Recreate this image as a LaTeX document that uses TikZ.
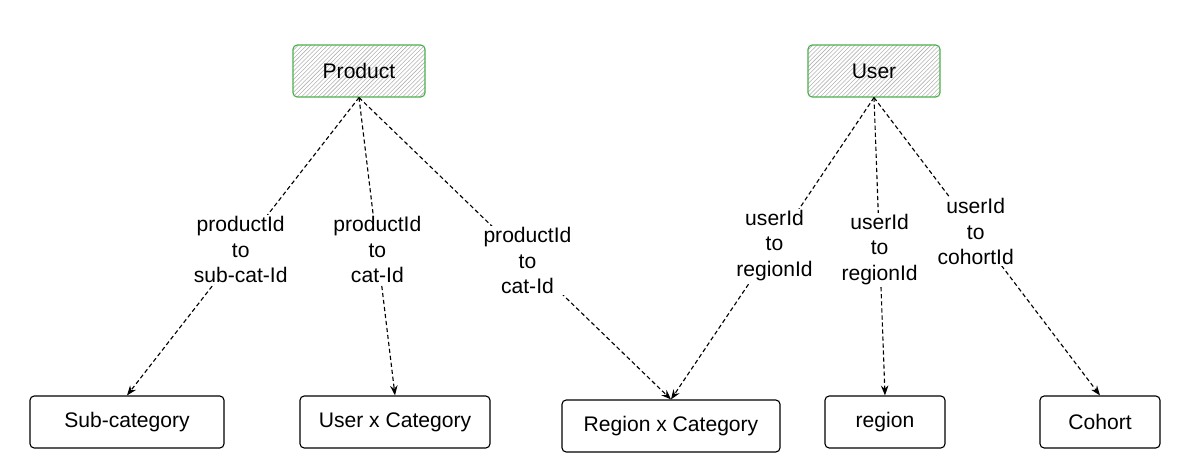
\documentclass[tikz,border=0pt]{standalone}
\usepackage{fontspec}
\setmainfont{Liberation Sans}
\usetikzlibrary{patterns}
\usetikzlibrary{arrows.meta}

\tikzset{
    entity/.style={draw, thick, rounded corners=3pt, minimum height=1.3cm,
        font=\fontsize{15}{18}\selectfont},
    source/.style={entity, draw=green!55!black!70, pattern=north east lines,
        pattern color=gray!60, minimum width=3.3cm},
    link/.style={->, densely dashed, thick, >={Stealth[length=7pt]}},
    tag/.style={fill=white, align=center, inner sep=1pt,
        font=\fontsize{15}{18}\selectfont}
}

\begin{document}
\begin{tikzpicture}
    \useasboundingbox (0, 0) rectangle (30, 11.75);
    \path (8.975, 9.975) node [source] (prod) {Product};
    \path (21.85, 9.975) node [source] (user) {User};

    \path (3.175, 1.2) node [entity, minimum width=4.85cm] (subcat) {Sub-category};
    \path (9.875, 1.2) node [entity, minimum width=4.75cm] (usercat) {User x Category};
    \path (16.775, 1.1) node [entity, minimum width=5.45cm] (regcat) {Region x Category};
    \path (22.125, 1.2) node [entity, minimum width=3cm] (region) {region};
    \path (27.5, 1.2) node [entity, minimum width=3cm] (cohort) {Cohort};

    \draw [link] (prod.south) -- (subcat.north) node[pos=0.51, tag] {productId\\to\\sub-cat-Id};
    \draw [link] (prod.south) -- (usercat.north) node[pos=0.51, tag] {productId\\to\\cat-Id};
    \draw [link] (prod.south) -- (regcat.north) node[pos=0.54, tag] {productId\\to\\cat-Id};

    \draw [link] (user.south) -- (regcat.north) node[pos=0.49, tag] {userId\\to\\regionId};
    \draw [link] (user.south) -- (region.north) node[pos=0.51, tag] {userId\\to\\regionId};
    \draw [link] (user.south) -- (cohort.north) node[pos=0.45, tag] {userId\\to\\cohortId};
\end{tikzpicture}
\end{document}
